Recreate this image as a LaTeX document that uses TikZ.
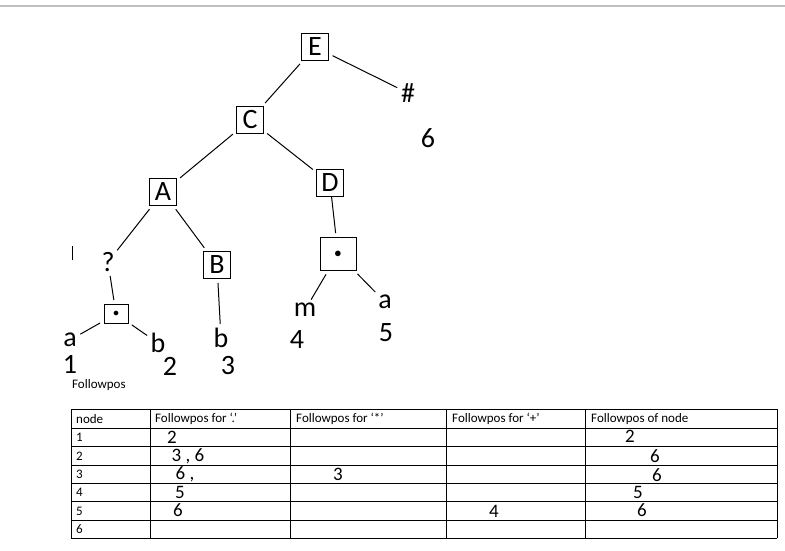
\documentclass[tikz,border=0pt]{standalone}
\usepackage{fontspec}
\setmainfont{Carlito}
\begin{document}
\begin{tikzpicture}[x=1pt,y=-1pt,
 bx/.style={draw,line width=1pt,minimum width=27pt,minimum height=27pt,inner sep=0pt,font=\fontsize{28}{28}\selectfont},
 hw/.style={inner sep=0pt,font=\fontsize{28}{28}\selectfont},
 ln/.style={line width=1pt,shorten <=4pt,shorten >=4pt},
 tc/.style={anchor=west,inner sep=0pt,font=\fontsize{13}{14}\selectfont},
 hv/.style={anchor=center,inner sep=0pt,font=\fontsize{19}{19}\selectfont}]
\useasboundingbox (0,0) rectangle (785,551);
\fill[white] (0,0) rectangle (785,551);
\draw[gray!50,line width=1.5pt] (0,6) -- (785,6);
% tree
\node[bx] (E) at (315,47) {E};
\node[bx] (C) at (250,120) {C};
\node[bx] (A) at (163,192) {A};
\node[bx] (D) at (330,183) {D};
\node[bx] (B) at (217,265) {B};
\node[bx,minimum width=36pt,minimum height=33pt,font=\Large] (d1) at (338,254) {$\bullet$};
\node[draw,line width=1pt,minimum width=24pt,minimum height=19pt,inner sep=0pt,font=\large] (d2) at (116,314) {$\bullet$};
\node[hw] (hash) at (408,93) {\#};
\node[hw] (n6) at (428,138) {6};
\node[hw] (q) at (108,262) {?};
\node[hw] (a1) at (70,340) {a};
\node[hw] (l1) at (70,364) {1};
\node[hw] (b2) at (158,343) {b};
\node[hw] (l2) at (170,366) {2};
\node[hw] (b3) at (221,338) {b};
\node[hw] (l3) at (228,366) {3};
\node[hw] (m4) at (305,310) {m};
\node[hw] (l4) at (297,340) {4};
\node[hw] (a5) at (385,302) {a};
\node[hw] (l5) at (386,333) {5};
\node[inner sep=0pt] (cur) at (72,253) {\rule{0.6pt}{14pt}};
\node[tc] (fp) at (72,385) {Followpos};
\draw[ln] (E) -- (hash);
\draw[ln] (E) -- (C);
\draw[ln] (C) -- (A);
\draw[ln] (C) -- (D);
\draw[ln] (A) -- (q);
\draw[ln] (A) -- (B);
\draw[ln,shorten <=0pt] (D) -- (d1);
\draw[ln] (d1) -- (m4);
\draw[ln] (d1) -- (a5);
\draw[ln] (q) -- (d2);
\draw[ln] (d2) -- (a1);
\draw[ln] (d2) -- (b2);
\draw[ln] (B) -- (b3);
% table
\foreach \y in {409,428,446,465,483,501,520,538} \draw[line width=0.6pt] (71,\y) -- (777,\y);
\foreach \x in {71,150,290,446,585,777} \draw[line width=0.6pt] (\x,409) -- (\x,538);
\node[tc] (h1) at (76,419) {node};
\node[tc] (h2) at (155,419) {Followpos for ‘.’};
\node[tc] (h3) at (296,419) {Followpos for ‘*’};
\node[tc] (h4) at (452,419) {Followpos for ‘+’};
\node[tc] (h5) at (591,419) {Followpos of node};
\foreach \i/\y in {1/437,2/456,3/474,4/492,5/511,6/529} \node[tc] (r\i) at (76,\y) {\i};
\node[hv] (c12) at (172,437) {2};
\node[hv] (c22) at (188,456) {3 , 6};
\node[hv] (c32) at (185,474) {6 ,};
\node[hv] (c42) at (180,492) {5};
\node[hv] (c52) at (178,510) {6};
\node[hv] (c33) at (338,474) {3};
\node[hv] (c54) at (494,511) {4};
\node[hv] (c15) at (630,436) {2};
\node[hv] (c25) at (655,456) {6};
\node[hv] (c35) at (657,475) {6};
\node[hv] (c45) at (638,492) {5};
\node[hv] (c55) at (642,510) {6};
\end{tikzpicture}
\end{document}
